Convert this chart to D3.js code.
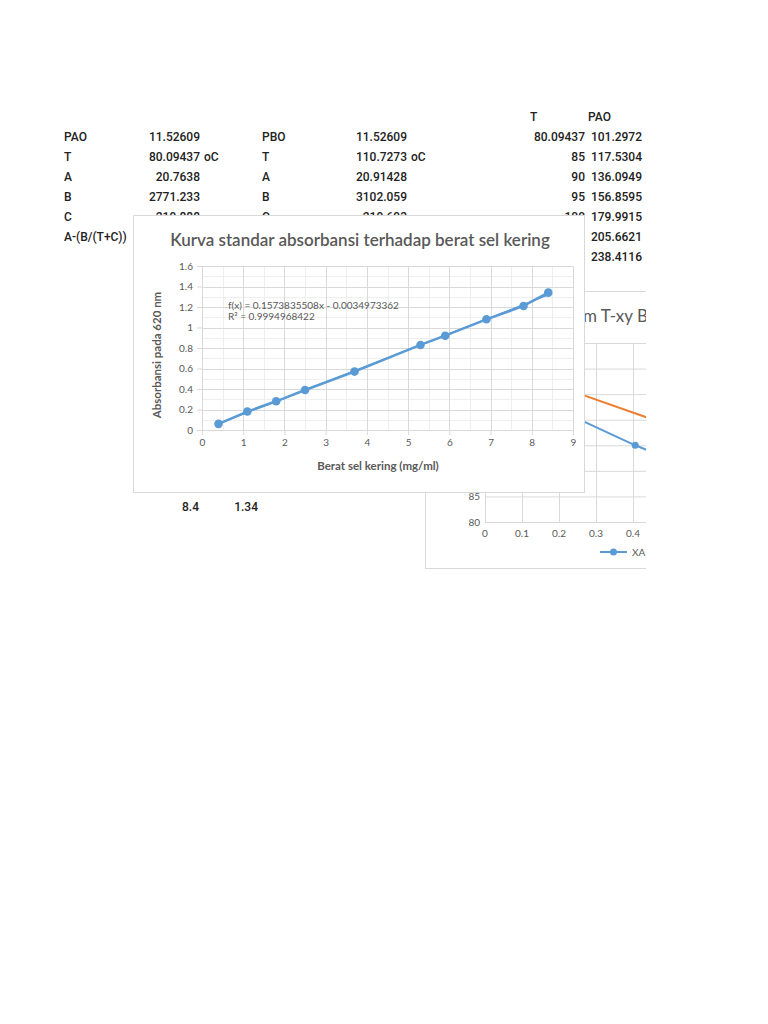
<!DOCTYPE html>
<html>
<head>
<meta charset="utf-8">
<script src="https://cdn.jsdelivr.net/npm/d3@7"></script>
<style>
body { margin: 0; background: #fff; }
svg text { font-family: Lato, "Open Sans", sans-serif; }
svg .cells text { font-family: Roboto, "Liberation Sans", sans-serif; }
</style>
</head>
<body>
<svg id="sheet" width="768" height="1024"></svg>
<script>
// standard curve data (berat sel kering vs absorbansi)
var berat = [0.4, 1.1, 1.8, 2.5, 3.7, 5.3, 5.9, 6.9, 7.8, 8.4];
var absorbansi = [0.06, 0.18, 0.28, 0.39, 0.57, 0.83, 0.92, 1.08, 1.21, 1.34];
var slope = 0.1573835508, intercept = -0.0034973362, rSquared = 0.9994968422;
var xTicks = [0, 1, 2, 3, 4, 5, 6, 7, 8, 9];
var yTicks = [0, 0.2, 0.4, 0.6, 0.8, 1, 1.2, 1.4, 1.6];

// T-xy diagram behind it
var suhu = [80.09437, 85, 90, 95, 100, 105, 110.7273];
var xA = [1, 0.773, 0.575, 0.406, 0.256, 0.127, 0];
var yA = [1, 0.897, 0.773, 0.629, 0.455, 0.258, 0];
var txyXTicks = [0, 0.1, 0.2, 0.3, 0.4, 0.5];
var txyYTicks = [80, 85, 90, 95, 100, 105, 110, 115];

// spreadsheet cells (only the ones not covered by the charts)
var labelsA = ["PAO", "T", "A", "B", "C", "A-(B/(T+C))"];
var valuesA = ["11.52609", "80.09437", "20.7638", "2771.233", "219.888"];
var labelsB = ["PBO", "T", "A", "B", "C"];
var valuesB = ["11.52609", "110.7273", "20.91428", "3102.059", "219.693"];
var tempCol = ["80.09437", "85", "90", "95", "100"];
var paoCol = ["101.2972", "117.5304", "136.0949", "156.8595", "179.9915", "205.6621", "238.4116"];

var svg = d3.select("#sheet");
var blue = "#5b9bd5", orange = "#ed7d31", grey = "#595959", grid = "#d9d9d9";

//----- cells
var cells = svg.append("g").attr("class", "cells").attr("font-size", 12).attr("font-weight", 500).attr("fill", "#222");
function rowY(i) { return 141 + i * 20; }

cells.selectAll(".la").data(labelsA).enter().append("text")
  .attr("x", 64).attr("y", function(d, i) { return rowY(i); }).text(function(d) { return d; });
cells.selectAll(".va").data(valuesA).enter().append("text")
  .attr("x", 200).attr("text-anchor", "end").attr("y", function(d, i) { return rowY(i); }).text(function(d) { return d; });
cells.append("text").attr("x", 204).attr("y", rowY(1)).text("oC");
cells.selectAll(".lb").data(labelsB).enter().append("text")
  .attr("x", 262).attr("y", function(d, i) { return rowY(i); }).text(function(d) { return d; });
cells.selectAll(".vb").data(valuesB).enter().append("text")
  .attr("x", 407).attr("text-anchor", "end").attr("y", function(d, i) { return rowY(i); }).text(function(d) { return d; });
cells.append("text").attr("x", 411).attr("y", rowY(1)).text("oC");

cells.append("text").attr("x", 530).attr("y", rowY(-1)).text("T");
cells.append("text").attr("x", 588).attr("y", rowY(-1)).text("PAO");
cells.selectAll(".tc").data(tempCol).enter().append("text")
  .attr("x", 585).attr("text-anchor", "end").attr("y", function(d, i) { return rowY(i); }).text(function(d) { return d; });
cells.selectAll(".pc").data(paoCol).enter().append("text")
  .attr("x", 642).attr("text-anchor", "end").attr("y", function(d, i) { return rowY(i); }).text(function(d) { return d; });

// last row of the curve's data table, below the chart
var last = berat.length - 1;
cells.append("text").attr("x", 199).attr("y", 511).attr("text-anchor", "end").text(berat[last]);
cells.append("text").attr("x", 258).attr("y", 511).attr("text-anchor", "end").text(absorbansi[last]);

//----- T-xy chart (partly hidden, cropped at the page edge)
svg.append("clipPath").attr("id", "pageclip")
  .append("rect").attr("x", 0).attr("y", 0).attr("width", 646).attr("height", 1024);
var txy = svg.append("g").attr("clip-path", "url(#pageclip)");

txy.append("rect").attr("x", 425.5).attr("y", 291.5).attr("width", 400).attr("height", 277)
  .attr("fill", "#fff").attr("stroke", grid);

var tx = d3.scaleLinear().domain([0, 1]).range([485, 855]);
var ty = d3.scaleLinear().domain([80, 115]).range([522, 343]);

txy.append("g").selectAll("line").data(txyYTicks).enter().append("line")
  .attr("x1", tx(0)).attr("x2", tx(1)).attr("y1", function(d) { return ty(d) + 0.5; }).attr("y2", function(d) { return ty(d) + 0.5; })
  .attr("stroke", grid);
txy.append("g").selectAll("line").data(txyXTicks).enter().append("line")
  .attr("y1", ty(80)).attr("y2", ty(115)).attr("x1", function(d) { return tx(d) + 0.5; }).attr("x2", function(d) { return tx(d) + 0.5; })
  .attr("stroke", grid);

// only 80 and 85 show below the front chart
txy.append("g").selectAll("text").data(txyYTicks.slice(0, 2)).enter().append("text")
  .attr("x", 480).attr("y", function(d) { return ty(d) + 4; }).attr("text-anchor", "end")
  .attr("font-size", 10).attr("fill", grey).text(function(d) { return d; });
txy.append("g").selectAll("text").data(txyXTicks).enter().append("text")
  .attr("x", function(d) { return tx(d); }).attr("y", 537).attr("text-anchor", "middle")
  .attr("font-size", 10).attr("fill", grey).text(function(d) { return d; });

var txyTitle = txy.append("text").attr("y", 322).attr("font-size", 17).attr("fill", grey);
var probe = txy.append("text").attr("font-size", 17).text("Diagra");
var off = probe.node().getComputedTextLength();
probe.remove();
txyTitle.attr("x", 583 - off).text("Diagram T-xy Benzena-Toluena");

var tline = d3.line().x(function(d) { return tx(d[0]); }).y(function(d) { return ty(d[1]); });
var seriesX = d3.zip(xA, suhu), seriesY = d3.zip(yA, suhu);
[[seriesY, orange], [seriesX, blue]].forEach(function(s) {
  txy.append("path").datum(s[0]).attr("d", tline).attr("fill", "none")
    .attr("stroke", s[1]).attr("stroke-width", 2);
  txy.append("g").selectAll("circle").data(s[0]).enter().append("circle")
    .attr("cx", function(d) { return tx(d[0]); }).attr("cy", function(d) { return ty(d[1]); })
    .attr("r", 3.5).attr("fill", s[1]);
});

// legend
var leg = txy.append("g").attr("transform", "translate(600,552)");
leg.append("line").attr("x1", 0).attr("x2", 27).attr("stroke", blue).attr("stroke-width", 2);
leg.append("circle").attr("cx", 13.5).attr("r", 3.5).attr("fill", blue);
leg.append("text").attr("x", 32).attr("y", 4).attr("font-size", 10).attr("fill", grey).text("XA");
leg.append("line").attr("x1", 60).attr("x2", 87).attr("stroke", orange).attr("stroke-width", 2);
leg.append("circle").attr("cx", 73.5).attr("r", 3.5).attr("fill", orange);
leg.append("text").attr("x", 92).attr("y", 4).attr("font-size", 10).attr("fill", grey).text("YA");

//----- main chart
var chart = svg.append("g");
chart.append("rect").attr("x", 133.5).attr("y", 215.5).attr("width", 451).attr("height", 277)
  .attr("fill", "#fff").attr("stroke", grid);

var x = d3.scaleLinear().domain([0, 9]).range([202, 573]);
var y = d3.scaleLinear().domain([0, 1.6]).range([430, 266]);

// minor grid
chart.append("g").selectAll("line").data(d3.range(0.1, 1.6, 0.2)).enter().append("line")
  .attr("x1", x(0)).attr("x2", x(9)).attr("y1", function(d) { return Math.round(y(d)) + 0.5; }).attr("y2", function(d) { return Math.round(y(d)) + 0.5; })
  .attr("stroke", "#efefef");
chart.append("g").selectAll("line").data(d3.range(0.5, 9, 1)).enter().append("line")
  .attr("y1", y(0)).attr("y2", y(1.6)).attr("x1", function(d) { return Math.round(x(d)) + 0.5; }).attr("x2", function(d) { return Math.round(x(d)) + 0.5; })
  .attr("stroke", "#efefef");
// major grid
chart.append("g").selectAll("line").data(yTicks).enter().append("line")
  .attr("x1", x(0)).attr("x2", x(9)).attr("y1", function(d) { return Math.round(y(d)) + 0.5; }).attr("y2", function(d) { return Math.round(y(d)) + 0.5; })
  .attr("stroke", grid);
chart.append("g").selectAll("line").data(xTicks).enter().append("line")
  .attr("y1", y(0)).attr("y2", y(1.6)).attr("x1", function(d) { return Math.round(x(d)) + 0.5; }).attr("x2", function(d) { return Math.round(x(d)) + 0.5; })
  .attr("stroke", grid);

// axes
var xAxis = chart.append("g").attr("transform", "translate(0," + y(0) + ")")
  .call(d3.axisBottom(x).tickValues(xTicks).tickSize(0).tickPadding(9));
var yAxis = chart.append("g").attr("transform", "translate(" + x(0) + ",0)")
  .call(d3.axisLeft(y).tickValues(yTicks).tickSize(0).tickPadding(9).tickFormat(d3.format("")));
[xAxis, yAxis].forEach(function(a) {
  a.select(".domain").attr("stroke", grid);
  a.selectAll("text").attr("font-family", "Lato, sans-serif").attr("font-size", 10).attr("fill", grey);
});
yAxis.selectAll(".tick").append("line").attr("x1", -5).attr("x2", 0).attr("stroke", grid);
xAxis.selectAll(".tick").append("line").attr("y1", 0).attr("y2", 5).attr("stroke", grid);

// trendline and series
chart.append("line")
  .attr("x1", x(d3.min(berat))).attr("y1", y(slope * d3.min(berat) + intercept))
  .attr("x2", x(d3.max(berat))).attr("y2", y(slope * d3.max(berat) + intercept))
  .attr("stroke", blue).attr("stroke-width", 1.2);
var pts = d3.zip(berat, absorbansi);
chart.append("path").datum(pts)
  .attr("d", d3.line().x(function(d) { return x(d[0]); }).y(function(d) { return y(d[1]); }))
  .attr("fill", "none").attr("stroke", blue).attr("stroke-width", 2.5);
chart.append("g").selectAll("circle").data(pts).enter().append("circle")
  .attr("cx", function(d) { return x(d[0]); }).attr("cy", function(d) { return y(d[1]); })
  .attr("r", 4.3).attr("fill", blue);

// labels
chart.append("text").attr("x", 360).attr("y", 246).attr("text-anchor", "middle")
  .attr("font-size", 17).attr("font-weight", 600).attr("fill", grey).text("Kurva standar absorbansi terhadap berat sel kering");
chart.append("text").attr("x", 378).attr("y", 470).attr("text-anchor", "middle")
  .attr("font-size", 11.5).attr("font-weight", "bold").attr("fill", grey).text("Berat sel kering (mg/ml)");
chart.append("text").attr("transform", "translate(161,355) rotate(-90)").attr("text-anchor", "middle")
  .attr("font-size", 11.5).attr("font-weight", "bold").attr("fill", grey).text("Absorbansi pada 620 nm");
chart.append("text").attr("x", 228).attr("y", 309).attr("font-size", 10).attr("fill", grey)
  .text("f(x) = " + slope + "x - " + Math.abs(intercept));
chart.append("text").attr("x", 228).attr("y", 320).attr("font-size", 10).attr("fill", grey)
  .text("R² = " + rSquared);
</script>
</body>
</html>
